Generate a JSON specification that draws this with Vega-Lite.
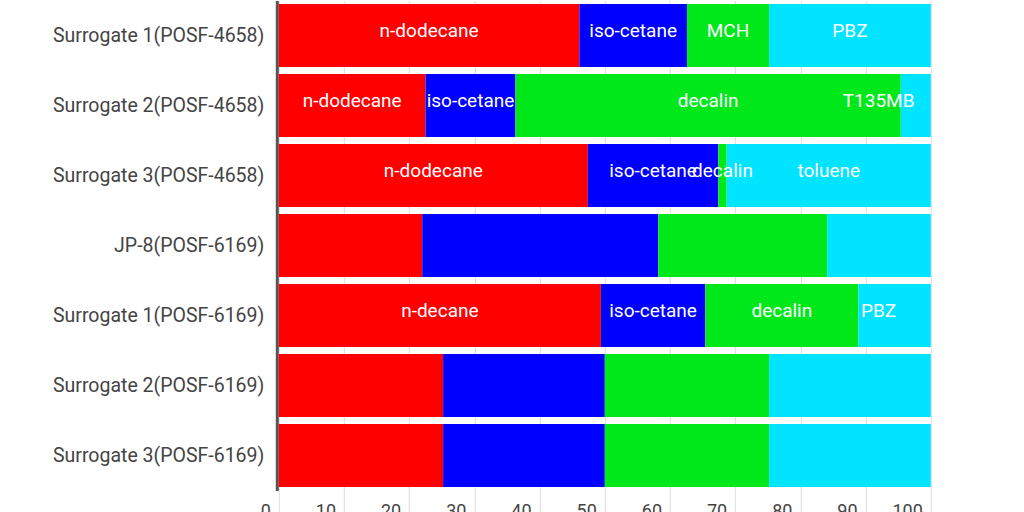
{
  "$schema": "https://vega.github.io/schema/vega-lite/v6.json",
  "width": 652,
  "height": 490,
  "autosize": "none",
  "padding": {"left": 278.8, "top": 0.5, "right": 93.2, "bottom": 21.5},
  "background": "white",
  "config": {
    "view": {"stroke": null},
    "font": "Roboto"
  },
  "data": {
    "values": [
      {"fuel": "Surrogate 1(POSF-4658)", "slot": 1, "component": "n-dodecane", "pct": 46.1},
      {"fuel": "Surrogate 1(POSF-4658)", "slot": 2, "component": "iso-cetane", "pct": 16.5},
      {"fuel": "Surrogate 1(POSF-4658)", "slot": 3, "component": "MCH", "pct": 12.6},
      {"fuel": "Surrogate 1(POSF-4658)", "slot": 4, "component": "PBZ", "pct": 24.8},
      {"fuel": "Surrogate 2(POSF-4658)", "slot": 1, "component": "n-dodecane", "pct": 22.5},
      {"fuel": "Surrogate 2(POSF-4658)", "slot": 2, "component": "iso-cetane", "pct": 13.8},
      {"fuel": "Surrogate 2(POSF-4658)", "slot": 3, "component": "decalin", "pct": 59.1},
      {"fuel": "Surrogate 2(POSF-4658)", "slot": 4, "component": "T135MB", "pct": 4.6},
      {"fuel": "Surrogate 3(POSF-4658)", "slot": 1, "component": "n-dodecane", "pct": 47.4},
      {"fuel": "Surrogate 3(POSF-4658)", "slot": 2, "component": "iso-cetane", "pct": 20.0},
      {"fuel": "Surrogate 3(POSF-4658)", "slot": 3, "component": "decalin", "pct": 1.3},
      {"fuel": "Surrogate 3(POSF-4658)", "slot": 4, "component": "toluene", "pct": 31.3},
      {"fuel": "JP-8(POSF-6169)", "slot": 1, "component": "", "pct": 22.0},
      {"fuel": "JP-8(POSF-6169)", "slot": 2, "component": "", "pct": 36.2},
      {"fuel": "JP-8(POSF-6169)", "slot": 3, "component": "", "pct": 25.9},
      {"fuel": "JP-8(POSF-6169)", "slot": 4, "component": "", "pct": 15.9},
      {"fuel": "Surrogate 1(POSF-6169)", "slot": 1, "component": "n-decane", "pct": 49.4},
      {"fuel": "Surrogate 1(POSF-6169)", "slot": 2, "component": "iso-cetane", "pct": 16.0},
      {"fuel": "Surrogate 1(POSF-6169)", "slot": 3, "component": "decalin", "pct": 23.5},
      {"fuel": "Surrogate 1(POSF-6169)", "slot": 4, "component": "PBZ", "pct": 11.1},
      {"fuel": "Surrogate 2(POSF-6169)", "slot": 1, "component": "", "pct": 25.2},
      {"fuel": "Surrogate 2(POSF-6169)", "slot": 2, "component": "", "pct": 24.8},
      {"fuel": "Surrogate 2(POSF-6169)", "slot": 3, "component": "", "pct": 25.2},
      {"fuel": "Surrogate 2(POSF-6169)", "slot": 4, "component": "", "pct": 24.8},
      {"fuel": "Surrogate 3(POSF-6169)", "slot": 1, "component": "", "pct": 25.2},
      {"fuel": "Surrogate 3(POSF-6169)", "slot": 2, "component": "", "pct": 24.8},
      {"fuel": "Surrogate 3(POSF-6169)", "slot": 3, "component": "", "pct": 25.2},
      {"fuel": "Surrogate 3(POSF-6169)", "slot": 4, "component": "", "pct": 24.8}
    ]
  },
  "transform": [
    {"stack": "pct", "groupby": ["fuel"], "sort": [{"field": "slot", "order": "ascending"}], "as": ["x0", "x1"]},
    {"calculate": "min((datum.x0 + datum.x1) / 2, 92)", "as": "mid"}
  ],
  "encoding": {
    "y": {
      "field": "fuel",
      "type": "nominal",
      "sort": [
        "Surrogate 1(POSF-4658)",
        "Surrogate 2(POSF-4658)",
        "Surrogate 3(POSF-4658)",
        "JP-8(POSF-6169)",
        "Surrogate 1(POSF-6169)",
        "Surrogate 2(POSF-6169)",
        "Surrogate 3(POSF-6169)"
      ],
      "scale": {"paddingInner": 0.1, "paddingOuter": 0.05},
      "axis": {
        "title": null,
        "domain": true,
        "domainColor": "#555555",
        "domainWidth": 3,
        "offset": 2,
        "ticks": false,
        "grid": false,
        "labelFont": "Roboto",
        "labelFontSize": 19.5,
        "labelColor": "#444444",
        "labelPadding": 13,
        "labelLimit": 400
      }
    }
  },
  "layer": [
    {
      "mark": {"type": "bar"},
      "encoding": {
        "x": {
          "field": "x0",
          "type": "quantitative",
          "scale": {"domain": [0, 100], "nice": false},
          "axis": {
            "title": null,
            "values": [0, 10, 20, 30, 40, 50, 60, 70, 80, 90, 100],
            "domain": false,
            "grid": true,
            "gridColor": "#dddddd",
            "gridWidth": 1,
            "ticks": true,
            "tickSize": 30,
            "tickColor": "#dddddd",
            "labelAlign": "right",
            "labelBaseline": "top",
            "labelOffset": -8.5,
            "labelPadding": -18,
            "labelFont": "Roboto",
            "labelFontSize": 18,
            "labelColor": "#444444"
          }
        },
        "x2": {"field": "x1"},
        "color": {
          "field": "slot",
          "type": "nominal",
          "scale": {"domain": [1, 2, 3, 4], "range": ["#ff0000", "#0000ff", "#00e81a", "#00e4ff"]},
          "legend": null
        }
      }
    },
    {
      "transform": [{"filter": "datum.component != ''"}],
      "mark": {"type": "text", "color": "white", "font": "Roboto", "fontSize": 19, "baseline": "alphabetic", "align": "center", "dy": 1},
      "encoding": {
        "x": {"field": "mid", "type": "quantitative"},
        "text": {"field": "component"}
      }
    }
  ]
}
